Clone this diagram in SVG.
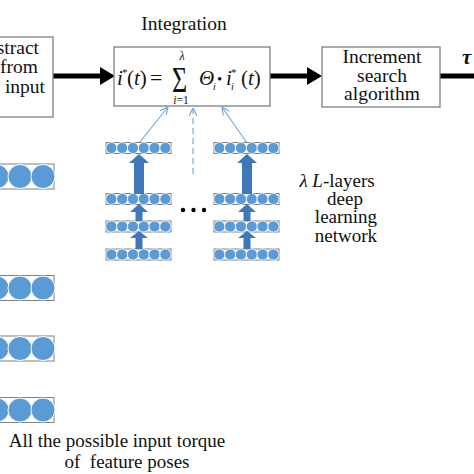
<svg xmlns="http://www.w3.org/2000/svg" width="474" height="474" viewBox="0 0 474 474">
<style>
text{font-family:"Liberation Serif","Times New Roman",serif;fill:#111}
.box{fill:#fff;stroke:#7f7f7f;stroke-width:1.3}
.lbl{font-size:19.5px}
.it{font-style:italic}
.row{fill:#fff;stroke:#7f7f7f;stroke-width:1}
.c{fill:#5b9bd5;stroke:#fff;stroke-width:0.8}
.big{fill:#5b9bd5;stroke:#fff;stroke-width:1}
.barrow{fill:#3f78b8}
.thin{stroke:#6fa3d8;stroke-width:1.1;fill:none}
.thick{stroke:#000;stroke-width:5;fill:none}
</style>
<defs>
<marker id="ah" viewBox="0 0 10 10" refX="10" refY="5" markerWidth="8" markerHeight="8" orient="auto" markerUnits="userSpaceOnUse">
<path d="M0,0 L10,5 L0,10" fill="none" stroke="#6fa3d8" stroke-width="1.4"/>
</marker>
<g id="srow">
<rect class="row" x="0" y="-5.5" width="65" height="11"/>
<circle class="c" cx="5.4" cy="0" r="5.6"/><circle class="c" cx="16.2" cy="0" r="5.6"/><circle class="c" cx="27" cy="0" r="5.6"/>
<circle class="c" cx="37.8" cy="0" r="5.6"/><circle class="c" cx="48.6" cy="0" r="5.6"/><circle class="c" cx="59.4" cy="0" r="5.6"/>
</g>
<g id="brow">
<rect class="row" x="-20" y="-12.5" width="74" height="25"/>
<circle class="big" cx="-3" cy="0" r="12"/><circle class="big" cx="20" cy="0" r="12"/><circle class="big" cx="43" cy="0" r="12"/>
</g>
<g id="arrows">
<path class="barrow" d="M-5,0 V-31 H-10 L0,-40 L10,-31 H5 V0 Z" transform="translate(0,194)"/>
<path class="barrow" d="M-3.5,0 V-9 H-9 L0,-17 L9,-9 H3.5 V0 Z" transform="translate(0,221)"/>
<path class="barrow" d="M-3.5,0 V-11 H-9 L0,-18 L9,-11 H3.5 V0 Z" transform="translate(0,249)"/>
</g>
</defs>

<g id="connectors">
<path class="thick" d="M53,76 H102"/>
<path d="M100,67 L115,76 L100,85 Z" fill="#000"/>
<path class="thick" d="M270,76 H309"/>
<path d="M307,67 L322,76 L307,85 Z" fill="#000"/>
<path class="thick" d="M440,76 H474"/>
<path class="thin" d="M139,143 L168,107" marker-end="url(#ah)"/>
<path class="thin" d="M247,143 L222,107" marker-end="url(#ah)"/>
<path class="thin" d="M193,174 V108" stroke-dasharray="6,4" marker-end="url(#ah)"/>
</g>

<g id="input-box">
<rect class="box" x="-10" y="37" width="63" height="80"/>
<text class="lbl" x="39" y="54" text-anchor="end">stract</text>
<text class="lbl" x="38" y="73" text-anchor="end">from</text>
<text class="lbl" x="45" y="93" text-anchor="end">input</text>
</g>

<g id="integration">
<text x="184" y="30" text-anchor="middle" style="font-size:19.5px">Integration</text>
<rect class="box" x="114" y="47" width="156" height="59"/>
<text x="117" y="85" class="it" style="font-size:21px">i</text>
<text x="122" y="76" style="font-size:11px">*</text>
<text x="127" y="85" style="font-size:21px">(<tspan class="it">t</tspan>)</text>
<text x="150" y="85" style="font-size:22px">=</text>
<text transform="translate(172,91.5) scale(1,1.4)" style="font-size:26px">Σ</text>
<text x="182" y="60" class="it" text-anchor="middle" style="font-size:12px">λ</text>
<text x="181" y="104" text-anchor="middle" style="font-size:11.5px"><tspan class="it">i</tspan>=1</text>
<text x="199" y="85" class="it" style="font-size:21px">Θ</text>
<text x="213" y="90" class="it" style="font-size:10px">i</text>
<text x="217" y="84" style="font-size:15px">•</text>
<text x="226" y="85" class="it" style="font-size:21px">i</text>
<text x="231" y="76" style="font-size:11px">*</text>
<text x="231" y="90" class="it" style="font-size:10px">i</text>
<text x="241" y="85" style="font-size:21px">(<tspan class="it">t</tspan>)</text>
</g>

<g id="increment">
<rect class="box" x="322" y="47" width="118" height="60"/>
<text class="lbl" x="382" y="63" text-anchor="middle">Increment</text>
<text class="lbl" x="382" y="82" text-anchor="middle">search</text>
<text class="lbl" x="382" y="100" text-anchor="middle">algorithm</text>
</g>

<g id="output">
<text x="462" y="64" style="font-size:21px;font-weight:bold;font-style:italic">τ</text>
</g>

<g id="network-left">
<use href="#srow" x="106" y="148"/>
<use href="#srow" x="106" y="199"/>
<use href="#srow" x="106" y="226.5"/>
<use href="#srow" x="106" y="254.5"/>
<use href="#arrows" x="139" y="0"/>
</g>

<g id="network-right">
<use href="#srow" x="214" y="148"/>
<use href="#srow" x="214" y="199"/>
<use href="#srow" x="214" y="226.5"/>
<use href="#srow" x="214" y="254.5"/>
<use href="#arrows" x="247" y="0"/>
</g>

<g id="ellipsis">
<circle cx="183" cy="210" r="2.2" fill="#000"/>
<circle cx="193.5" cy="210" r="2.2" fill="#000"/>
<circle cx="204" cy="210" r="2.2" fill="#000"/>
</g>

<g id="network-label">
<text class="lbl" x="337" y="187" text-anchor="middle" style="font-size:19px"><tspan class="it">λ L</tspan>-layers</text>
<text class="lbl" x="345" y="205" text-anchor="middle" style="font-size:19px">deep</text>
<text class="lbl" x="346" y="223" text-anchor="middle" style="font-size:19px">learning</text>
<text class="lbl" x="346" y="242" text-anchor="middle" style="font-size:19px">network</text>
</g>

<g id="inputs">
<use href="#brow" x="0" y="176.5"/>
<use href="#brow" x="0" y="288"/>
<use href="#brow" x="0" y="348.5"/>
<use href="#brow" x="0" y="410"/>
<text class="lbl" x="117" y="447" text-anchor="middle" style="font-size:19px">All the possible input torque</text>
<text class="lbl" x="127" y="468" text-anchor="middle" style="font-size:19px" xml:space="preserve">of  feature poses</text>
</g>
</svg>
